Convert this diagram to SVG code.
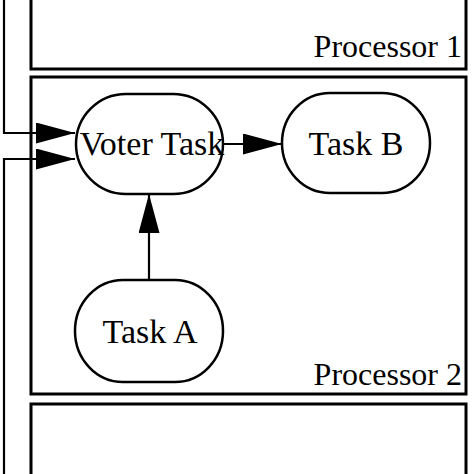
<svg xmlns="http://www.w3.org/2000/svg" width="474" height="474" viewBox="0 0 474 474">
<style>
.proc{fill:none;stroke:#000;stroke-width:3}
.node{fill:#fff;stroke:#000;stroke-width:2.5}
.lbl{font-family:"Liberation Serif","Times New Roman",serif;font-size:32px;fill:#000}
.nlbl{font-family:"Liberation Serif","Times New Roman",serif;font-size:34px;fill:#000}
.conn{fill:none;stroke:#000;stroke-width:2.2}
</style>
<defs>
<marker id="ah" markerUnits="userSpaceOnUse" markerWidth="40" markerHeight="22" refX="39" refY="10.5" orient="auto">
<path d="M0,0 L39,10.5 L0,21 z" fill="#000"/>
</marker>
</defs>
<g id="processor1">
<rect class="proc" x="31" y="-20" width="435" height="89"/>
<text class="lbl" x="462" y="57" text-anchor="end">Processor 1</text>
</g>
<g id="processor2">
<rect class="proc" x="31" y="77" width="435" height="317"/>
<text class="lbl" x="462" y="385" text-anchor="end">Processor 2</text>
</g>
<g id="processor3">
<rect class="proc" x="31" y="404" width="435" height="90"/>
</g>
<g id="connectors">
<path class="conn" d="M4,-5 V133 H75" marker-end="url(#ah)"/>
<path class="conn" d="M4,479 V159 H75" marker-end="url(#ah)"/>
<path class="conn" d="M213,144 H282" marker-end="url(#ah)"/>
<path class="conn" d="M149,280 V194" marker-end="url(#ah)"/>
</g>
<g id="voter-task">
<rect class="node" x="76" y="94" width="147" height="100" rx="50" ry="50"/>
<text class="nlbl" x="152" y="155" text-anchor="middle">Voter Task</text>
</g>
<g id="task-b">
<rect class="node" x="282" y="93" width="148" height="100" rx="48" ry="50"/>
<text class="nlbl" x="356" y="155" text-anchor="middle">Task B</text>
</g>
<g id="task-a">
<rect class="node" x="75" y="280" width="148" height="102" rx="48" ry="51"/>
<text class="nlbl" x="150" y="343" text-anchor="middle">Task A</text>
</g>
</svg>
